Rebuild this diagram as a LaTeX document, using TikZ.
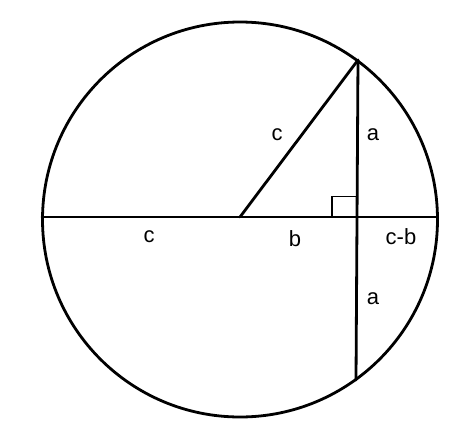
\documentclass[tikz,border=0pt]{standalone}
\usepackage{fontspec}
\setmainfont{Liberation Sans}
\begin{document}
\begin{tikzpicture}[x=1pt,y=-1pt,
  geo/.style={line width=2.8pt,line cap=round,line join=miter},
  lbl/.style={font=\fontsize{22}{24}\selectfont,inner sep=0pt}]
\useasboundingbox (0,0) rectangle (474,445);
\fill[white] (0,0) rectangle (474,445);
\coordinate (C) at (240,219.5);
\coordinate (L) at (42,217);
\coordinate (R) at (437.5,217);
\coordinate (O) at (240,217);
\coordinate (T) at (358,60);
\coordinate (B) at (356,380);
\coordinate (F) at (357,217);
\draw[geo] (C) circle[radius=197.5];
\draw[geo] (L) -- (R);
\draw[geo] (O) -- (T);
\draw[geo] (T) -- (B);
\draw[line width=1.8pt] (332,217) -- (332,196.5) -- (357,196.5);
\node[lbl] (lc1) at (277,135) {c};
\node[lbl] (la1) at (373,135) {a};
\node[lbl] (lc2) at (149,237) {c};
\node[lbl] (lb) at (295,239) {b};
\node[lbl] (lcb) at (401,237) {c-b};
\node[lbl] (la2) at (373,299) {a};
\end{tikzpicture}
\end{document}
